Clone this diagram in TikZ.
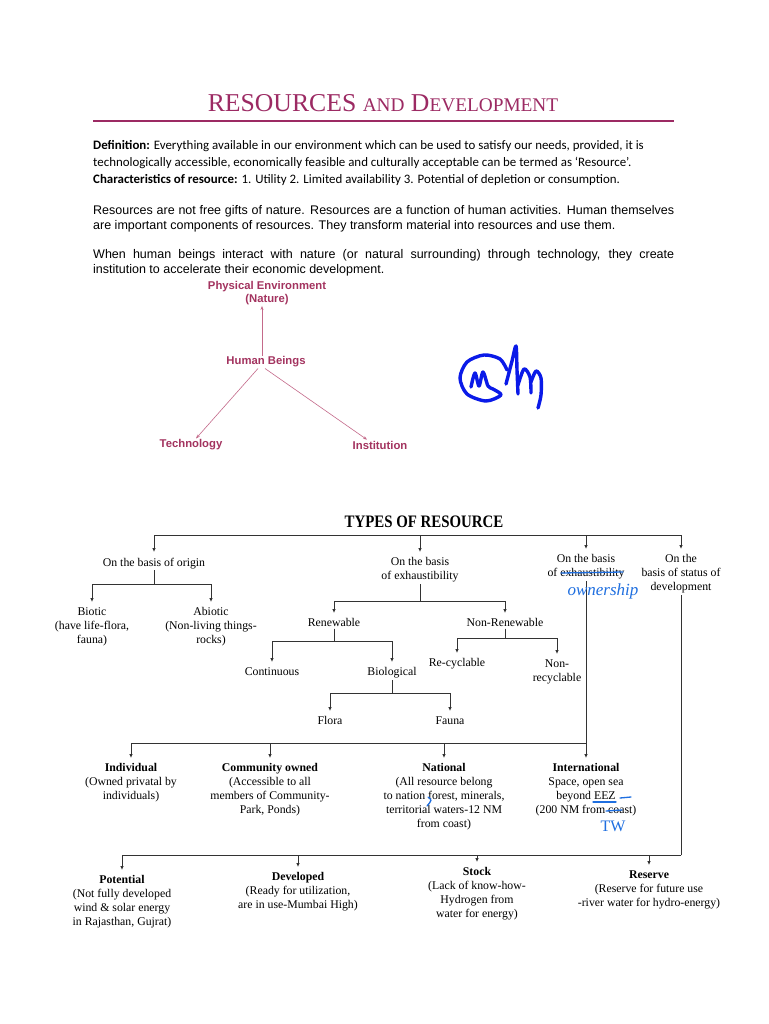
\documentclass[tikz,border=0pt]{standalone}
\usepackage{fontspec}
\setmainfont{Liberation Serif}
\newfontfamily\arialfont{Liberation Sans}
\newfontfamily\calibrifont{Carlito}
\newfontfamily\condfont[FakeStretch=0.85]{Liberation Serif}
\usetikzlibrary{arrows.meta, positioning, calc}

\definecolor{titlemag}{HTML}{9C2A63}
\definecolor{hbmag}{HTML}{A3335F}
\definecolor{hbline}{HTML}{C46A8A}
\definecolor{inkblue}{HTML}{1F6FE0}
\definecolor{sigblue}{HTML}{0A1AE8}
\definecolor{treeline}{HTML}{333333}

\tikzset{
  heading/.style={font=\fontsize{25.7}{28}\selectfont, text=titlemag, inner sep=0pt},
  deftext/.style={font=\calibrifont\fontsize{12.9}{17}\selectfont, align=left,
                  anchor=north west, inner sep=0pt},
  paratext/.style={font=\arialfont\fontsize{12.5}{15}\selectfont, text width=581pt,
                   align=justify, anchor=north west, inner sep=0pt},
  hbnode/.style={font=\arialfont\bfseries\fontsize{11.3}{13}\selectfont, text=hbmag,
                 align=center, inner sep=1pt},
  hbarrow/.style={-{Stealth[length=4pt,width=3pt]}, draw=hbline, line width=0.6pt},
  typetitle/.style={font=\condfont\bfseries\fontsize{17.5}{20}\selectfont, inner sep=0pt},
  basis/.style={font=\fontsize{11.8}{14}\selectfont, align=center, inner sep=1.5pt, anchor=north},
  leaf/.style={font=\fontsize{11.8}{14}\selectfont, align=center, inner sep=1.5pt, anchor=north},
  arrow/.style={-{Latex[length=4pt,width=3.5pt]}, draw=treeline, line width=0.75pt, shorten >=4pt},
  bus/.style={draw=treeline, line width=0.75pt},
  ink/.style={draw=inkblue, line width=1.3pt, line cap=round},
  inktext/.style={text=inkblue, font=\itshape\fontsize{17}{17}\selectfont, inner sep=0pt},
  sig/.style={draw=sigblue, line width=3.4pt, line cap=round, line join=round},
}

\begin{document}
\begin{tikzpicture}[x=1pt, y=-1pt]
  \fill[white] (0,0) rectangle (768,1024);
  \useasboundingbox (0,0) rectangle (768,1024);

  % --- Heading ---
  \node[heading, anchor=base] (title) at (383,112)
    {RESOURCES {\fontsize{19.3}{20}\selectfont AND} D{\fontsize{19.3}{20}\selectfont EVELOPMENT}};
  \draw[titlemag, line width=2pt] (93,121) -- (674,121);

  % --- Definition text ---
  \node[deftext] (defn) at (93,140)
    {\textbf{Definition:} Everything available in our environment which can be used to satisfy our needs, provided, it is\\
     technologically accessible, economically feasible and culturally acceptable can be termed as ‘Resource’.\\
     \textbf{Characteristics of resource:} 1. Utility 2. Limited availability 3. Potential of depletion or consumption.};

  \node[paratext] (para1) at (93,205)
    {Resources are not free gifts of nature. Resources are a function of human activities. Human themselves\linebreak
     are important components of resources. They transform material into resources and use them.};
  \node[paratext] (para2) at (93,249)
    {When human beings interact with nature (or natural surrounding) through technology, they create\linebreak
     institution to accelerate their economic development.};

  % --- Human beings diagram ---
  \node[hbnode] (nature) at (267,293) {Physical Environment\\(Nature)};
  \node[hbnode] (human) at (266,362) {Human Beings};
  \node[hbnode] (tech) at (191,445) {Technology};
  \node[hbnode] (inst) at (380,445) {Institution};
  \draw[hbarrow] ([xshift=-4pt]human.north) -- ([xshift=-5pt]nature.south);
  \draw[hbarrow] ([xshift=-8pt]human.south) -- ([xshift=5pt]tech.north);
  \draw[hbarrow] ([xshift=-1pt]human.south) -- ([xshift=-13pt]inst.north);

  % --- Signature ---
  \draw[sig] plot[smooth] coordinates {(471,387) (475,373) (479,386) (483,372) (488,386) (493,389)
    (501,395) (486,401) (467,394) (460,378) (467,362) (484,355) (500,359) (507,370)};
  \draw[sig] plot[smooth] coordinates {(506,384) (512,361) (516,346) (517,370) (518,394)};
  \draw[sig] plot[smooth] coordinates {(518,385) (524,369) (530,377) (531,393)};
  \draw[sig] plot[smooth] coordinates {(531,382) (536,371) (541,378) (541,395) (538,408)};

  % --- Types of resource ---
  \node[typetitle] (types) at (424,522) {TYPES OF RESOURCE};
  \coordinate (topL) at (154,535);
  \coordinate (topR) at (681,535);
  \draw[bus] (topL) -- (topR);

  \node[basis] (origin) at (154,556) {On the basis of origin};
  \node[basis] (exh) at (420,556) {On the basis\\of exhaustibility};
  \node[basis] (own) at (586,553) {On the basis\\of exhaustibility};
  \node[basis] (dev) at (681,553) {On the\\basis of status of\\development};
  \draw[arrow] (topL) -- (origin.north);
  \draw[arrow] (exh.north |- topL) -- (exh.north);
  \draw[arrow] (own.north |- topL) -- (own.north);
  \draw[arrow] (topR) -- (dev.north);

  % origin
  \node[leaf] (biotic) at (92,606) {Biotic\\(have life-flora,\\fauna)};
  \node[leaf] (abiotic) at (211,606) {Abiotic\\(Non-living things-\\rocks)};
  \draw[arrow] (origin.south) -- ++(0,14) -| (biotic.north);
  \draw[arrow] (origin.south) -- ++(0,14) -| (abiotic.north);

  % exhaustibility
  \node[leaf] (renew) at (334,617) {Renewable};
  \node[leaf] (nonrenew) at (505,617) {Non-Renewable};
  \draw[arrow] (exh.south) -- ++(0,17) -| (renew.north);
  \draw[arrow] (exh.south) -- ++(0,17) -| (nonrenew.north);
  \node[leaf] (cont) at (272,666) {Continuous};
  \node[leaf] (bio) at (392,666) {Biological};
  \draw[arrow] (renew.south) -- ++(0,13) -| (cont.north);
  \draw[arrow] (renew.south) -- ++(0,13) -| (bio.north);
  \node[leaf] (flora) at (330,715) {Flora};
  \node[leaf] (fauna) at (450,715) {Fauna};
  \draw[arrow] (bio.south) -- ++(0,13) -| (flora.north);
  \draw[arrow] (bio.south) -- ++(0,13) -| (fauna.north);
  \node[leaf] (recyc) at (457,657) {Re-cyclable};
  \node[leaf] (nonrecyc) at (557,658) {Non-\\recyclable};
  \draw[arrow] (nonrenew.south) -- ++(0,10) -| (recyc.north);
  \draw[arrow] (nonrenew.south) -- ++(0,10) -| (nonrecyc.north);

  % ownership
  \node[leaf] (indiv) at (131,762) {\textbf{Individual}\\(Owned privatal by\\individuals)};
  \node[leaf] (comm) at (270,762) {\textbf{Community owned}\\(Accessible to all\\members of Community-\\Park, Ponds)};
  \node[leaf] (natl) at (444,762) {\textbf{National}\\(All resource belong\\to nation forest, minerals,\\territorial waters-12 NM\\from coast)};
  \node[leaf] (intl) at (586,762) {\textbf{International}\\Space, open sea\\beyond EEZ\\(200 NM from coast)};
  \coordinate (ownbus) at (586,743);
  \draw[arrow] (own.south) -- (intl.north);
  \draw[arrow] (ownbus) -| (indiv.north);
  \draw[arrow] (ownbus) -| (comm.north);
  \draw[arrow] (ownbus) -| (natl.north);

  % status of development
  \node[leaf] (potential) at (122,874) {\textbf{Potential}\\(Not fully developed\\wind \& solar energy\\in Rajasthan, Gujrat)};
  \node[leaf] (developed) at (298,871) {\textbf{Developed}\\(Ready for utilization,\\are in use-Mumbai High)};
  \node[leaf] (stock) at (477,866) {\textbf{Stock}\\(Lack of know-how-\\Hydrogen from\\water for energy)};
  \node[leaf] (reserve) at (649,869) {\textbf{Reserve}\\(Reserve for future use\\-river water for hydro-energy)};
  \coordinate (devbus) at (681,855);
  \draw[bus] (dev.south) -- (devbus);
  \draw[arrow] (devbus) -| (potential.north);
  \draw[arrow] (devbus) -| (developed.north);
  \draw[arrow] (devbus) -| (stock.north);
  \draw[arrow] (devbus) -| (reserve.north);

  % --- Ink corrections ---
  \draw[ink] (561,573) -- (623,572);
  \node[inktext] (ownink) at (603,591) {ownership};
  \draw[ink] (428,797) .. controls (432,800) .. (427,806);
  \draw[ink] (593,802) -- (616,802);
  \draw[ink] (620,798) -- (631,797);
  \draw[ink] (606,811) -- (622,810);
  \node[inktext, font=\fontsize{16}{16}\selectfont] (tw) at (613,826) {TW};
\end{tikzpicture}
\end{document}
